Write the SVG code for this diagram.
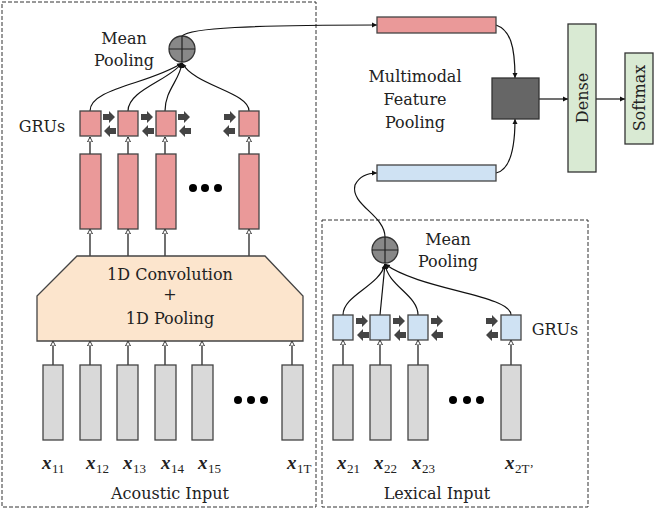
<svg xmlns="http://www.w3.org/2000/svg" width="655" height="511" viewBox="0 0 655 511">
<style>
text{font-family:"DejaVu Serif","Liberation Serif",serif;font-size:16px;fill:#222}
.red{fill:#ea9999;stroke:#444;stroke-width:1.3}
.blue{fill:#cfe2f3;stroke:#444;stroke-width:1.3}
.gray{fill:#d9d9d9;stroke:#444;stroke-width:1.3}
.green{fill:#d9ead3;stroke:#333;stroke-width:1.3}
.dash{fill:none;stroke:#333;stroke-dasharray:4,2;stroke-width:1}
.ln{fill:none;stroke:#111;stroke-width:1.2}
.x{font-family:"Liberation Serif",serif;font-weight:bold;font-style:italic;font-size:19px}
.sub{font-family:"Liberation Serif",serif;font-size:13px}
</style>
<defs>
<marker id="a" markerWidth="6" markerHeight="6" refX="5" refY="3" orient="auto" markerUnits="userSpaceOnUse"><path d="M0,0.5 L5,3 L0,5.5 Z" fill="#fff" stroke="#111" stroke-width="0.8"/></marker>
<marker id="b" markerWidth="6" markerHeight="6" refX="5" refY="3" orient="auto" markerUnits="userSpaceOnUse"><path d="M0,0.5 L5,3 L0,5.5 Z" fill="#111"/></marker>
<g id="ra"><path d="M0,-3 h6 v-3 l6,6 l-6,6 v-3 h-6 Z" fill="#444"/></g>
<g id="la"><path d="M12,-3 h-6 v-3 l-6,6 l6,6 v-3 h6 Z" fill="#444"/></g>
</defs>
<rect class="dash" x="2" y="2" width="314" height="505"/>
<rect class="dash" x="322" y="220" width="266" height="287"/>

<g id="connectors">
<g class="ln" marker-end="url(#a)">
<line x1="53" y1="365" x2="53" y2="341"/><line x1="90" y1="365" x2="90" y2="341"/><line x1="128" y1="365" x2="128" y2="341"/><line x1="165" y1="365" x2="165" y2="341"/><line x1="202" y1="365" x2="202" y2="341"/><line x1="292" y1="365" x2="292" y2="341"/>
<line x1="90" y1="256" x2="90" y2="229"/><line x1="128" y1="256" x2="128" y2="229"/><line x1="165" y1="256" x2="165" y2="229"/><line x1="249" y1="256" x2="249" y2="229"/>
<line x1="90" y1="154" x2="90" y2="137"/><line x1="128" y1="154" x2="128" y2="137"/><line x1="165" y1="154" x2="165" y2="137"/><line x1="249" y1="154" x2="249" y2="137"/>
<line x1="343" y1="365" x2="343" y2="340"/><line x1="380" y1="365" x2="380" y2="340"/><line x1="418" y1="365" x2="418" y2="340"/><line x1="511" y1="365" x2="511" y2="340"/>
</g>
<g class="ln" marker-end="url(#b)">
<path d="M90,111 C90,88 150,84 182,63"/><path d="M128,111 C128,90 170,80 182,63"/><path d="M165,111 C165,90 180,80 182,63"/><path d="M249,111 C249,92 195,86 182,63"/>
<path d="M343,315 C343,295 380,286 385,264"/><path d="M380,315 L385,264"/><path d="M418,315 C418,295 388,286 385,264"/><path d="M511,315 C511,295 420,290 385,264"/>
<path d="M182,36 C190,28 250,25 377,25"/>
<path d="M385,237 C385,215 350,205 355,185 C360,175 370,173 377,173"/>
<path d="M496,25 C510,30 515,45 515,78"/>
<path d="M496,173 C510,170 515,150 515,119"/>
<line x1="539" y1="99" x2="568" y2="99"/><line x1="596" y1="99" x2="625" y2="99"/>
</g>
</g>

<g id="acoustic">
<g class="gray"><rect x="43" y="365" width="20" height="75"/><rect x="80" y="365" width="21" height="75"/><rect x="117" y="365" width="21" height="75"/><rect x="155" y="365" width="21" height="75"/><rect x="192" y="365" width="21" height="75"/><rect x="282" y="365" width="21" height="75"/></g>
<g fill="#000"><circle cx="238" cy="400" r="4"/><circle cx="251" cy="400" r="4"/><circle cx="264" cy="400" r="4"/></g>
<path d="M77,256 H265 L303,296 V341 H37 V296 Z" fill="#fce5cd" stroke="#444" stroke-width="1.3"/>
<text x="170" y="280" text-anchor="middle">1D Convolution</text>
<text x="170" y="300" text-anchor="middle">+</text>
<text x="170" y="324" text-anchor="middle">1D Pooling</text>
<g class="red"><rect x="80" y="154" width="21" height="75"/><rect x="118" y="154" width="20" height="75"/><rect x="156" y="154" width="20" height="75"/><rect x="239" y="154" width="20" height="75"/>
<rect x="80" y="111" width="21" height="25"/><rect x="118" y="111" width="20" height="25"/><rect x="156" y="111" width="20" height="25"/><rect x="239" y="111" width="20" height="25"/></g>
<g fill="#000"><circle cx="193" cy="188" r="4"/><circle cx="205" cy="188" r="4"/><circle cx="218" cy="188" r="4"/></g>
<use href="#ra" x="103" y="117"/><use href="#la" x="104" y="131"/>
<use href="#ra" x="141" y="117"/><use href="#la" x="142" y="131"/>
<use href="#ra" x="178" y="117"/><use href="#la" x="179" y="131"/>
<use href="#ra" x="224" y="117"/><use href="#la" x="223" y="131"/>
<text x="42" y="132" text-anchor="middle">GRUs</text>
<text x="124" y="44" text-anchor="middle">Mean</text>
<text x="124" y="66" text-anchor="middle">Pooling</text>
<g><circle cx="182" cy="49" r="13" fill="#888" stroke="#333" stroke-width="1.3"/><path d="M169,49 H195 M182,36 V62" stroke="#222" stroke-width="1.2"/></g>
<g><text class="x" x="42" y="469">x</text><text class="sub" x="52" y="473">11</text>
<text class="x" x="86" y="469">x</text><text class="sub" x="96" y="473">12</text>
<text class="x" x="123" y="469">x</text><text class="sub" x="133" y="473">13</text>
<text class="x" x="161" y="469">x</text><text class="sub" x="171" y="473">14</text>
<text class="x" x="198" y="469">x</text><text class="sub" x="208" y="473">15</text>
<text class="x" x="287" y="469">x</text><text class="sub" x="297" y="473">1T</text></g>
<text x="170" y="499" text-anchor="middle">Acoustic Input</text>
</g>

<g id="lexical">
<g class="gray"><rect x="333" y="365" width="20" height="75"/><rect x="370" y="365" width="21" height="75"/><rect x="408" y="365" width="20" height="75"/><rect x="501" y="365" width="20" height="75"/></g>
<g fill="#000"><circle cx="453" cy="400" r="4"/><circle cx="467" cy="400" r="4"/><circle cx="480" cy="400" r="4"/></g>
<g class="blue"><rect x="333" y="315" width="20" height="25"/><rect x="370" y="315" width="20" height="25"/><rect x="408" y="315" width="20" height="25"/><rect x="501" y="315" width="20" height="25"/></g>
<use href="#ra" x="356" y="321"/><use href="#la" x="357" y="335"/>
<use href="#ra" x="393" y="321"/><use href="#la" x="394" y="335"/>
<use href="#ra" x="431" y="321"/><use href="#la" x="431" y="335"/>
<use href="#ra" x="486" y="321"/><use href="#la" x="486" y="335"/>
<text x="555" y="335" text-anchor="middle">GRUs</text>
<text x="448" y="245" text-anchor="middle">Mean</text>
<text x="448" y="267" text-anchor="middle">Pooling</text>
<g><circle cx="385" cy="250" r="13" fill="#888" stroke="#333" stroke-width="1.3"/><path d="M372,250 H398 M385,237 V263" stroke="#222" stroke-width="1.2"/></g>
<g><text class="x" x="337" y="469">x</text><text class="sub" x="347" y="473">21</text>
<text class="x" x="374" y="469">x</text><text class="sub" x="384" y="473">22</text>
<text class="x" x="412" y="469">x</text><text class="sub" x="422" y="473">23</text>
<text class="x" x="505" y="469">x</text><text class="sub" x="515" y="473">2T’</text></g>
<text x="437" y="499" text-anchor="middle">Lexical Input</text>
</g>

<g id="fusion">
<rect class="red" x="377" y="17" width="119" height="16"/>
<rect class="blue" x="377" y="165" width="119" height="16"/>
<rect x="492" y="78" width="47" height="41" fill="#666" stroke="#333" stroke-width="1.3"/>
<text x="415" y="82" text-anchor="middle">Multimodal</text>
<text x="415" y="105" text-anchor="middle">Feature</text>
<text x="415" y="128" text-anchor="middle">Pooling</text>
<rect class="green" x="568" y="24" width="28" height="148"/>
<text transform="translate(588,98) rotate(-90)" text-anchor="middle">Dense</text>
<rect class="green" x="625" y="53" width="28" height="91"/>
<text transform="translate(645,98) rotate(-90)" text-anchor="middle">Softmax</text>
</g>
</svg>
